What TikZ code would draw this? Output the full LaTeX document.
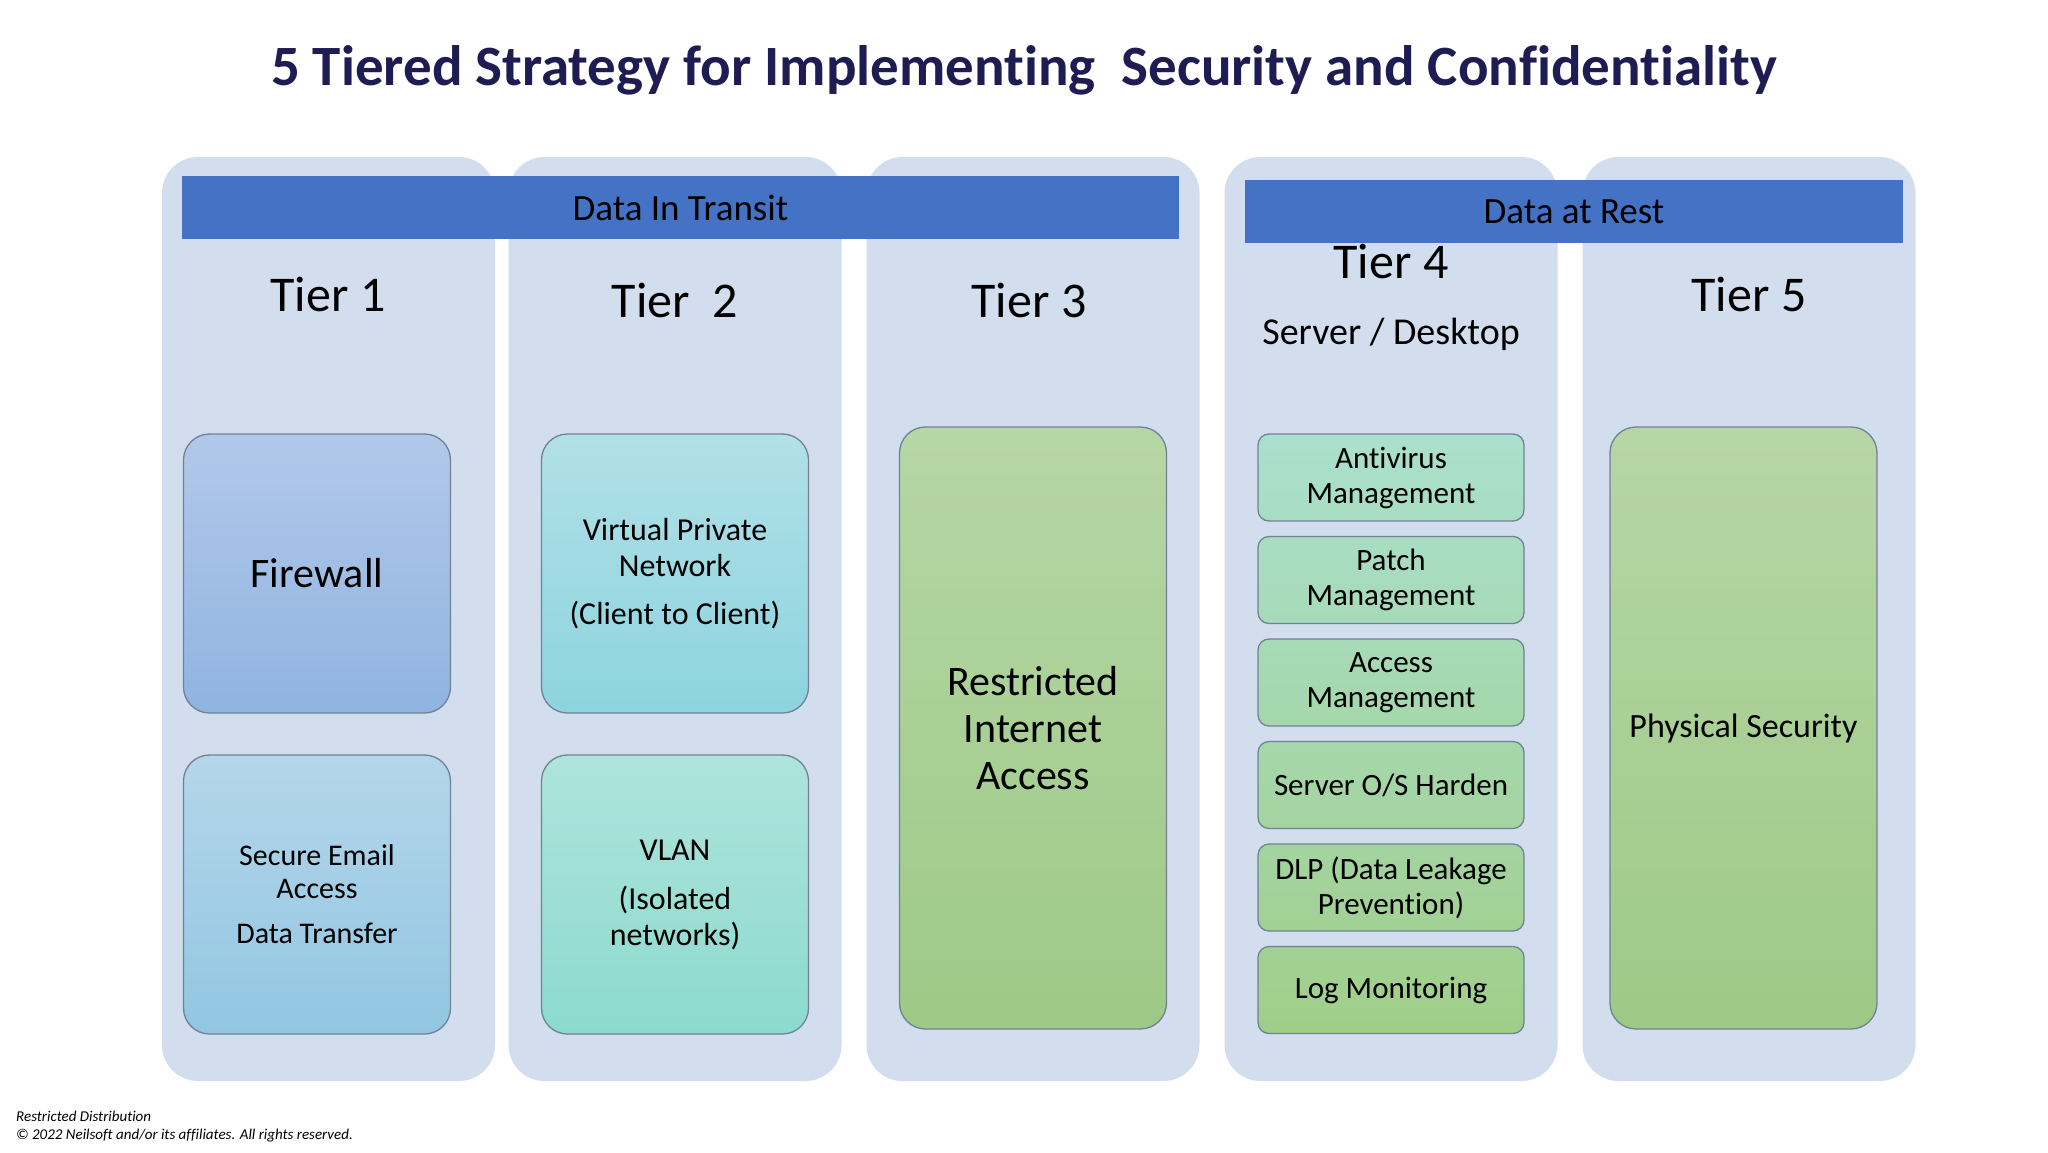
\documentclass[tikz,border=0pt]{standalone}
\usepackage{fontspec}
\setmainfont{Carlito}[Ligatures=NoCommon]
\usetikzlibrary{positioning}

\definecolor{colbg}{RGB}{210,222,238}
\definecolor{bandblue}{RGB}{68,114,196}
\definecolor{titlenavy}{RGB}{30,28,82}
\definecolor{edgegray}{RGB}{112,130,148}
\definecolor{fwtop}{RGB}{178,200,234}
\definecolor{fwbot}{RGB}{143,180,224}
\definecolor{mailtop}{RGB}{180,214,234}
\definecolor{mailbot}{RGB}{146,198,226}
\definecolor{vpntop}{RGB}{178,224,232}
\definecolor{vpnbot}{RGB}{140,212,222}
\definecolor{vlantop}{RGB}{174,228,220}
\definecolor{vlanbot}{RGB}{140,218,206}
\definecolor{greentop}{RGB}{182,214,166}
\definecolor{greenbot}{RGB}{157,201,134}
\definecolor{tfourtop}{RGB}{170,224,206}
\definecolor{tfourbot}{RGB}{160,206,136}

\tikzset{
  tiercol/.style={rectangle, rounded corners=36pt, fill=colbg,
    minimum width=333pt, minimum height=924pt},
  bandbar/.style={rectangle, fill=bandblue, minimum height=63pt,
    font=\fontsize{37}{44}\selectfont},
  tierlbl/.style={font=\fontsize{50}{60}\selectfont},
  cardbox/.style={rectangle, rounded corners=26pt, draw=edgegray, line width=1.3pt,
    minimum width=267pt, align=center},
  stackbox/.style={rectangle, rounded corners=11pt, draw=edgegray, line width=1.3pt,
    minimum width=266pt, minimum height=87pt, align=center,
    font=\fontsize{31}{35}\selectfont}
}

\begin{document}
\begin{tikzpicture}[x=1pt, y=-1pt]
  \fill[white] (0,0) rectangle (2048,1152);
  \useasboundingbox (0,0) rectangle (2048,1152);

  % title
  \node[font=\fontsize{57}{66}\selectfont\bfseries, text=titlenavy] (title) at (1024,70)
    {5 Tiered Strategy for Implementing\ \ Security and Confidentiality};

  % columns
  \node[tiercol] (col1) at (328.5,619) {};
  \node[tiercol] (col2) at (675,619) {};
  \node[tiercol] (col3) at (1033,619) {};
  \node[tiercol] (col4) at (1391,619) {};
  \node[tiercol] (col5) at (1749,619) {};

  % bands
  \node[bandbar, minimum width=997pt] (transit) at (680.5,207.5) {Data In Transit};
  \node[bandbar, minimum width=658pt] (rest) at (1574,211.5) {Data at Rest};

  % tier labels
  \node[tierlbl] (t1) at (328,294) {Tier 1};
  \node[tierlbl] (t2) at (675,300) {Tier\ \ 2};
  \node[tierlbl] (t3) at (1029,300) {Tier 3};
  \node[tierlbl] (t4) at (1391,261) {Tier 4};
  \node[font=\fontsize{38}{46}\selectfont] (t4sub) at (1391,334) {Server / Desktop};
  \node[tierlbl] (t5) at (1749,294) {Tier 5};

  % tier 1 and 2
  \node[cardbox, minimum height=279pt, top color=fwtop, bottom color=fwbot,
    font=\fontsize{42}{48}\selectfont] (firewall) at (317,573.5) {Firewall};
  \node[cardbox, minimum height=279pt, top color=mailtop, bottom color=mailbot,
    font=\fontsize{30}{33}\selectfont] (mail) at (317,894.5)
    {Secure Email\\Access\\[12pt]Data Transfer};
  \node[cardbox, minimum height=279pt, top color=vpntop, bottom color=vpnbot,
    font=\fontsize{32}{36}\selectfont] (vpn) at (675,573.5)
    {Virtual Private\\Network\\[12pt](Client to Client)};
  \node[cardbox, minimum height=279pt, top color=vlantop, bottom color=vlanbot,
    font=\fontsize{32}{36}\selectfont] (vlan) at (675,894.5)
    {VLAN\\[13pt](Isolated\\networks)};

  % tier 3
  \node[cardbox, minimum height=602pt, top color=greentop, bottom color=greenbot,
    font=\fontsize{42}{47}\selectfont] (internet) at (1033,728)
    {Restricted\\Internet\\Access};

  % tier 4
  \foreach \txt [count=\i from 0] in {{Antivirus\\Management},{Patch\\Management},
      {Access\\Management},{Server O/S Harden},{DLP (Data Leakage\\Prevention)},
      {Log Monitoring}} {
    \pgfmathtruncatemacro{\pa}{100*\i/6}
    \pgfmathtruncatemacro{\pb}{100*(\i+1)/6}
    \node[stackbox, top color=tfourbot!\pa!tfourtop, bottom color=tfourbot!\pb!tfourtop]
      (tfour\i) at (1391,{477.5+102.5*\i}) {\txt};
  }

  % tier 5
  \node[cardbox, minimum height=602pt, top color=greentop, bottom color=greenbot,
    font=\fontsize{34}{40}\selectfont] (physical) at (1743.5,728) {Physical Security};

  % footer
  \node[anchor=north west, align=left, inner sep=0pt,
    font=\fontsize{15}{18}\selectfont\itshape] (foot) at (16,1111)
    {Restricted Distribution\\\copyright{} 2022 Neilsoft and/or its affiliates. All rights reserved.};
\end{tikzpicture}
\end{document}
